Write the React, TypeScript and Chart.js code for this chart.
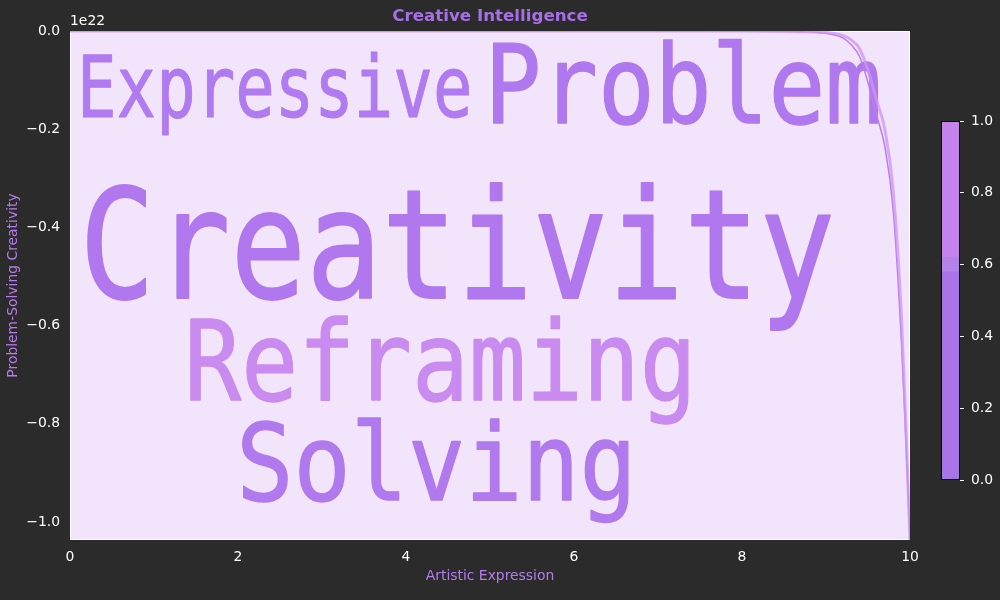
import React, { useEffect, useRef } from "react";
import { Chart, registerables } from "chart.js";

Chart.register(...registerables);

// ---- data ----
const curveX = [0, 2, 4, 6, 8, 8.5, 8.9, 9.1, 9.2, 9.3, 9.4, 9.5, 9.6, 9.7, 9.8, 9.9, 9.95, 10];
const curveY = [0, 0, 0, 0, -0.0003, -0.001, -0.003, -0.008, -0.014, -0.028, -0.052, -0.105, -0.17, -0.235, -0.365, -0.64, -0.83, -1.037];
const haloY = [0, 0, 0, 0, -0.0002, -0.0007, -0.002, -0.005, -0.009, -0.018, -0.036, -0.08, -0.14, -0.2, -0.325, -0.59, -0.8, -1.037];
const yScaleUnit = 1e22;

const words = ["Expressive", "Problem", "Creativity", "Reframing", "Solving"];
const wordColors = ["#b07af0", "#b078ef", "#b077ee", "#c98bf0", "#b179ee"];
// layout boxes in pixels of the figure: [left, capTop, right, baseline]
const wordBoxes = [
  [83, 55, 469, 117],
  [493, 43, 878, 123],
  [87, 185, 831, 298],
  [190, 318, 688, 400],
  [242, 420, 628, 500],
];

const xTicks = [0, 2, 4, 6, 8, 10];
const yTicks = [-1.0, -0.8, -0.6, -0.4, -0.2, 0.0];
const colorbarStops = [0, 0.58, 0.62, 1];
const colorbarColors = ["#a973e9", "#b581eb", "#c683ed"];

const FIG_BG = "#2b2b2b";
const PLOT_BG = "#f2e4fa";
const FONT = "'DejaVu Sans', sans-serif";

function fmt(v: number) {
  const s = Math.abs(v) < 1e-9 ? "0.0" : v.toFixed(1);
  return s.replace("-", "\u2212");
}

export default function App() {
  const mainRef = useRef<HTMLCanvasElement>(null);
  const cbRef = useRef<HTMLCanvasElement>(null);

  useEffect(() => {
    document.body.style.margin = "0";
    document.body.style.background = FIG_BG;

    const bgPlugin = {
      id: "bgWords",
      beforeDraw(chart: any) {
        const { ctx, chartArea: a } = chart;
        ctx.save();
        ctx.fillStyle = PLOT_BG;
        ctx.fillRect(a.left, a.top, a.right - a.left, a.bottom - a.top);
        ctx.restore();
      },
      beforeDatasetsDraw(chart: any) {
        const { ctx, chartArea: a } = chart;
        ctx.save();
        ctx.beginPath();
        ctx.rect(a.left, a.top, a.right - a.left, a.bottom - a.top);
        ctx.clip();
        ctx.font = `100px 'DejaVu Sans Mono', monospace`;
        ctx.textAlign = "left";
        ctx.textBaseline = "alphabetic";
        try { (ctx as any).filter = "blur(0.6px)"; } catch (e) {}
        words.forEach((w, i) => {
          const [L, T, R, B] = wordBoxes[i];
          const m = ctx.measureText(w);
          const inkW = m.actualBoundingBoxLeft + m.actualBoundingBoxRight;
          const cap = ctx.measureText(w[0]).actualBoundingBoxAscent;
          const sx = (R - L) / inkW;
          const sy = (B - T) / cap;
          ctx.save();
          ctx.translate(L + m.actualBoundingBoxLeft * sx, B);
          ctx.scale(sx, sy);
          ctx.fillStyle = wordColors[i];
          ctx.strokeStyle = wordColors[i];
          ctx.lineWidth = 1.2;
          ctx.lineJoin = "round";
          ctx.fillText(w, 0, 0);
          ctx.strokeText(w, 0, 0);
          ctx.restore();
        });
        ctx.restore();
        // spines
        ctx.save();
        ctx.strokeStyle = "#ffffff";
        ctx.lineWidth = 1;
        ctx.strokeRect(a.left + 0.5, a.top + 0.5, a.right - a.left - 1, a.bottom - a.top - 1);
        ctx.restore();
      },
      afterDraw(chart: any) {
        const { ctx, chartArea: a } = chart;
        ctx.save();
        ctx.fillStyle = "#a86ee8";
        ctx.font = `bold 16.7px ${FONT}`;
        ctx.textAlign = "center";
        ctx.textBaseline = "middle";
        ctx.fillText("Creative Intelligence", (a.left + a.right) / 2, 17);
        ctx.fillStyle = "#b77cec";
        ctx.font = `13.9px ${FONT}`;
        ctx.fillText("Artistic Expression", (a.left + a.right) / 2, 576);
        ctx.save();
        ctx.translate(13, (a.top + a.bottom) / 2);
        ctx.rotate(-Math.PI / 2);
        ctx.fillText("Problem-Solving Creativity", 0, 0);
        ctx.restore();
        ctx.fillStyle = "#ffffff";
        ctx.textAlign = "left";
        ctx.fillText("1e22", a.left, 21);
        ctx.restore();
      },
    };

    const main = new Chart(mainRef.current!, {
      type: "line",
      data: {
        datasets: [
          {
            label: "halo",
            data: curveX.map((x, i) => ({ x, y: haloY[i] * yScaleUnit })),
            borderColor: "rgba(206,150,242,0.75)",
            borderWidth: 3,
            pointRadius: 0,
            cubicInterpolationMode: "monotone",
          },
          {
            label: "curve",
            data: curveX.map((x, i) => ({ x, y: curveY[i] * yScaleUnit })),
            borderColor: "#bd7bec",
            borderWidth: 1.5,
            pointRadius: 0,
            cubicInterpolationMode: "monotone",
          },
        ],
      },
      options: {
        responsive: false,
        animation: false,
        devicePixelRatio: 1,
        layout: { padding: { left: 0, top: 31, right: 90, bottom: 0 } },
        plugins: { legend: { display: false }, tooltip: { enabled: false }, title: { display: false } },
        scales: {
          x: {
            type: "linear",
            min: 0,
            max: 10,
            afterFit: (s: any) => { s.height = 60; },
            afterBuildTicks: (s: any) => { s.ticks = xTicks.map((v) => ({ value: v })); },
            grid: { display: false, drawTicks: false },
            border: { display: false },
            ticks: { color: "#ffffff", font: { family: FONT, size: 13.9 }, padding: 9, callback: (v: any) => String(v) },
          },
          y: {
            type: "linear",
            min: -1.0367 * yScaleUnit,
            max: 0,
            afterFit: (s: any) => { s.width = 70; },
            afterBuildTicks: (s: any) => { s.ticks = yTicks.map((v) => ({ value: v * yScaleUnit })); },
            grid: { display: false, drawTicks: false },
            border: { display: false },
            ticks: {
              color: "#ffffff",
              font: { family: FONT, size: 13.9 },
              padding: 10,
              callback: (v: any) => fmt(Number(v) / yScaleUnit),
            },
          },
        },
      },
      plugins: [bgPlugin],
    } as any);

    const cbBorder = {
      id: "cbBorder",
      afterDatasetsDraw(chart: any) {
        const { ctx, chartArea: a } = chart;
        ctx.save();
        ctx.strokeStyle = "#000000";
        ctx.lineWidth = 1;
        ctx.strokeRect(a.left + 0.5, a.top + 0.5, a.right - a.left - 1, a.bottom - a.top - 1);
        ctx.restore();
      },
    };

    const cb = new Chart(cbRef.current!, {
      type: "bar",
      data: {
        labels: [""],
        datasets: colorbarColors.map((c, i) => ({
          data: [colorbarStops[i + 1] - colorbarStops[i]],
          backgroundColor: c,
          borderWidth: 0,
          barPercentage: 1,
          categoryPercentage: 1,
        })),
      },
      options: {
        responsive: false,
        animation: false,
        devicePixelRatio: 1,
        layout: { padding: { left: 41, top: 21, right: 0, bottom: 20 } },
        plugins: { legend: { display: false }, tooltip: { enabled: false } },
        scales: {
          x: { stacked: true, display: false },
          y: {
            stacked: true,
            position: "right",
            min: 0,
            max: 1,
            afterFit: (s: any) => { s.width = 40; },
            grid: { display: true, drawOnChartArea: false, drawTicks: true, tickLength: 4, color: "#ffffff" },
            border: { display: false },
            ticks: {
              color: "#ffffff",
              font: { family: FONT, size: 13.9 },
              padding: 7,
              stepSize: 0.2,
              callback: (v: any) => fmt(Number(v)),
            },
          },
        },
      },
      plugins: [cbBorder],
    } as any);

    return () => {
      main.destroy();
      cb.destroy();
    };
  }, []);

  return (
    <div style={{ position: "relative", width: 1000, height: 600, background: FIG_BG }}>
      <canvas ref={mainRef} width={1000} height={600} style={{ position: "absolute", left: 0, top: 0 }} />
      <canvas ref={cbRef} width={100} height={400} style={{ position: "absolute", left: 900, top: 100 }} />
    </div>
  );
}
